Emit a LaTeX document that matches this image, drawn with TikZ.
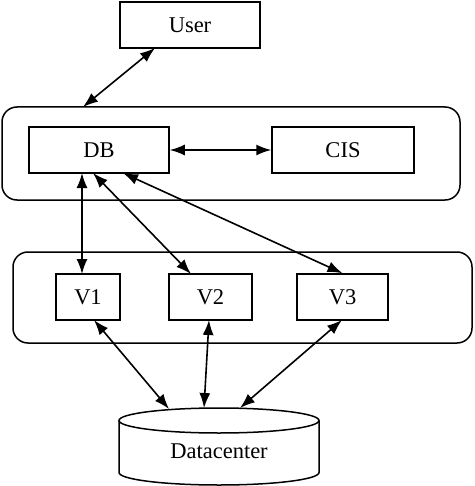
\documentclass[tikz,border=0pt]{standalone}
\usepackage{fontspec}
\setmainfont{Liberation Serif}
\usetikzlibrary{arrows.meta}
\begin{document}
\begin{tikzpicture}[x=1pt,y=-1pt,
  box/.style={draw, line width=1.5pt, inner sep=0pt, font=\fontsize{22.5}{27}\selectfont},
  group/.style={draw, line width=1.5pt, rounded corners=15pt, inner sep=0pt},
  link/.style={{Latex[length=15pt,width=11pt]}-{Latex[length=15pt,width=11pt]}, line width=1.6pt}]
\useasboundingbox (0,0) rectangle (474,486);

\node (dbgroup) at (231,153.5) [group, minimum width=458, minimum height=93] {};
\node (vgroup) at (242.5,297.5) [group, minimum width=459, minimum height=91] {};

\node (user) at (190,25) [box, minimum width=140, minimum height=46] {User};
\node (db) at (99,150) [box, minimum width=140, minimum height=46] {DB};
\node (cis) at (343,150) [box, minimum width=142, minimum height=46] {CIS};

\node (v1) at (88,297) [box, minimum width=64, minimum height=46] {V1};
\node (v2) at (210.5,297) [box, minimum width=83, minimum height=46] {V2};
\node (v3) at (342.5,297) [box, minimum width=91, minimum height=46] {V3};

% datacenter drum
\draw[line width=1.5pt] (219,420.5) ellipse [x radius=100, y radius=12.5];
\draw[line width=1.5pt] (119,420.5) -- (119,472.5)
  arc [start angle=180, end angle=0, x radius=100, y radius=12.5] -- (319,420.5);
\node (dc) at (219,451) [font=\fontsize{22.5}{27}\selectfont] {Datacenter};

% end points off the anchors
\coordinate (usr) at (155,48);
\coordinate (grp) at (83,107);
\coordinate (db1) at (82,173);
\coordinate (db2) at (93,173);
\coordinate (db3) at (123,173);
\coordinate (v1t) at (82,274);
\coordinate (v2t) at (191,274);
\coordinate (v1b) at (94,320);
\coordinate (v2b) at (209,320);
\coordinate (v3b) at (342,320);
\coordinate (dc1) at (169,409);
\coordinate (dc2) at (204,408);
\coordinate (dc3) at (240,408);

\draw[link] (usr) -- (grp);
\draw[link] (db) -- (cis);

\draw[link] (db1) -- (v1t);
\draw[link] (db2) -- (v2t);
\draw[link] (db3) -- (v3.north);

\draw[link] (v1b) -- (dc1);
\draw[link] (v2b) -- (dc2);
\draw[link] (v3b) -- (dc3);
\end{tikzpicture}
\end{document}
